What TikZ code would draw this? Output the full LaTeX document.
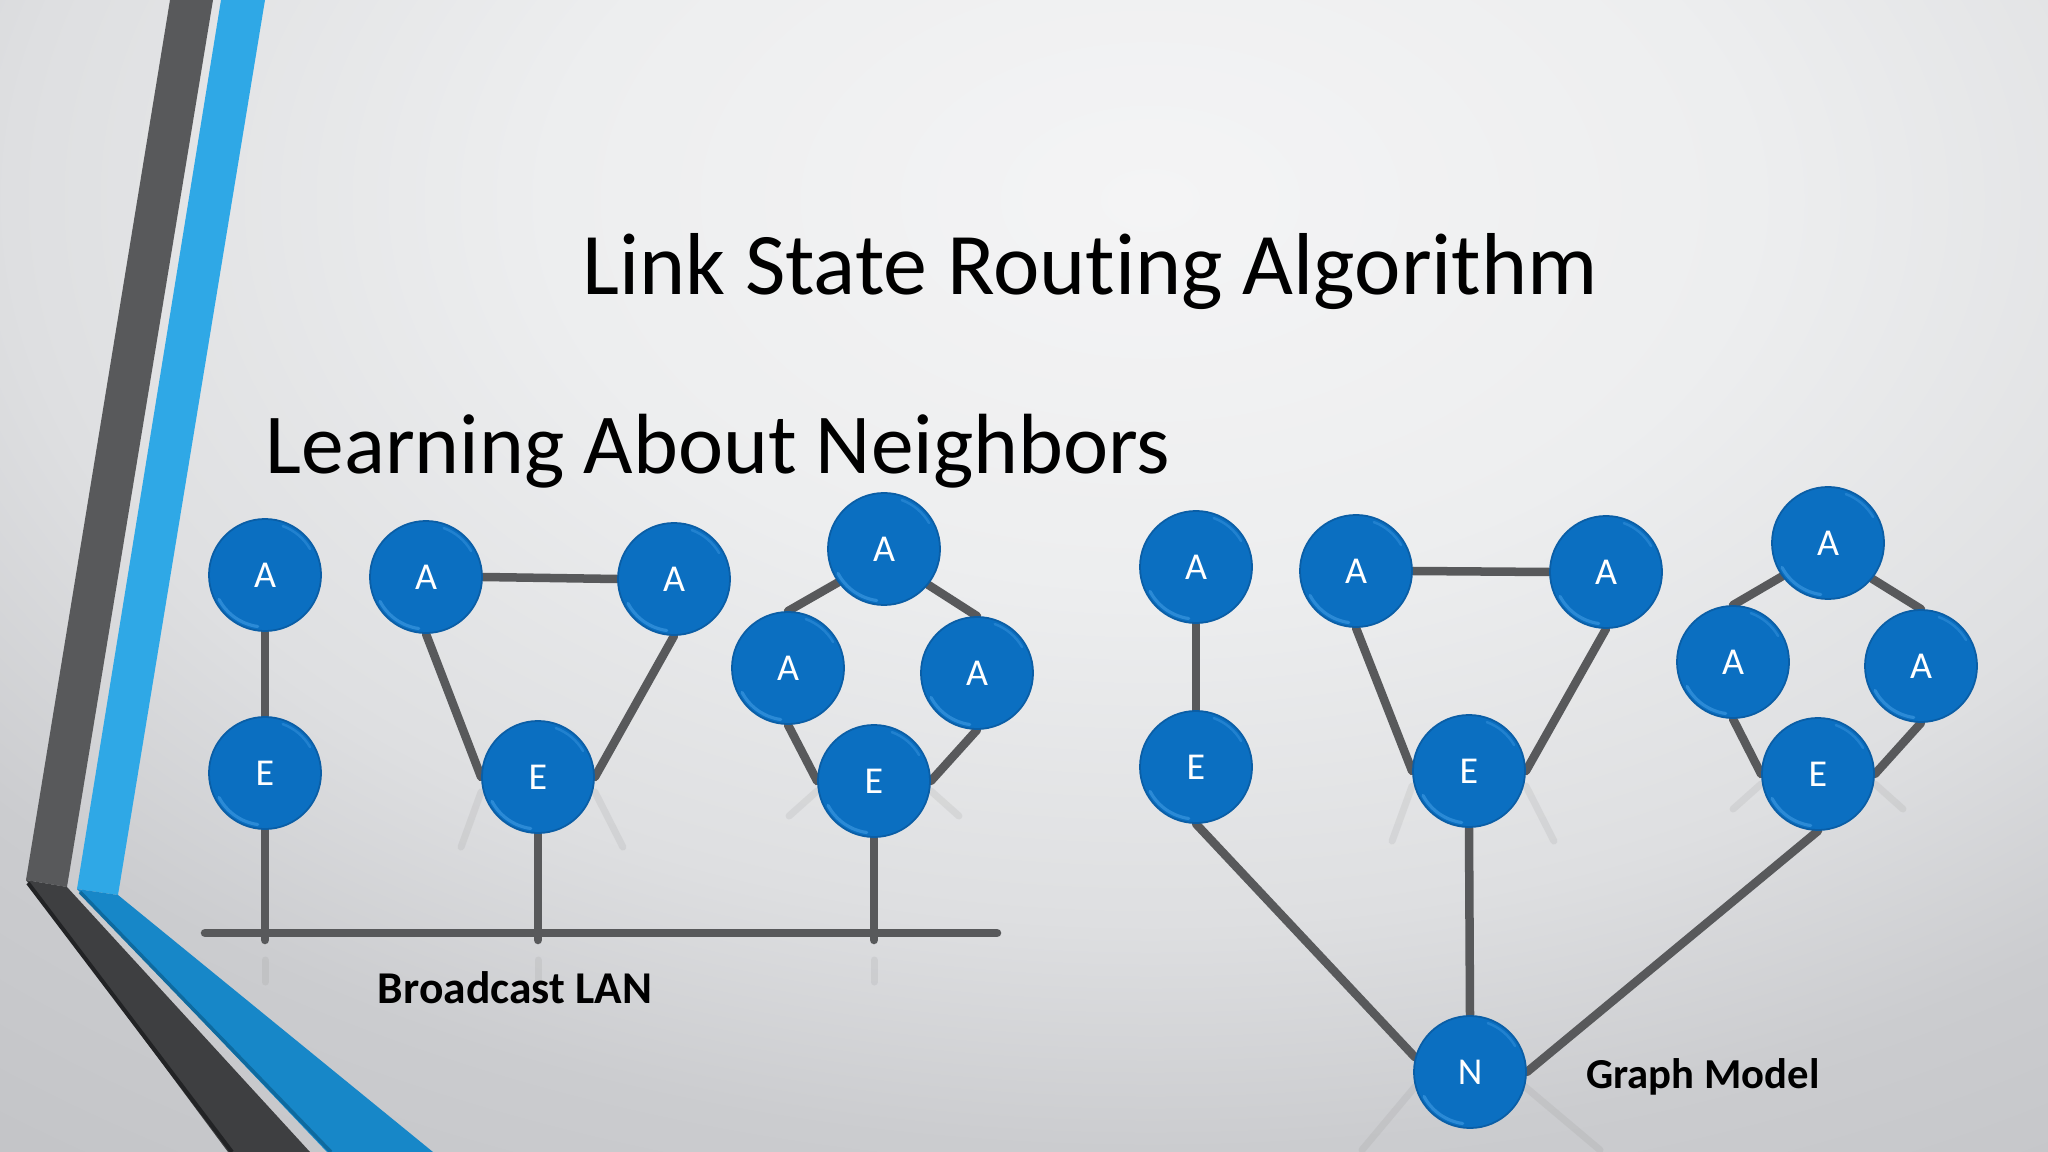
\documentclass[tikz,border=0pt]{standalone}
\usepackage{graphicx}
\usepackage{fontspec}
\setmainfont{Carlito}[Ligatures=NoCommon]
\definecolor{nodeblue}{HTML}{0B6FC1}
\definecolor{nodedark}{HTML}{0A5EA6}
\definecolor{nodehl}{HTML}{2B8AD6}
\definecolor{edgegray}{HTML}{58595B}
\definecolor{darkup}{HTML}{58595B}
\definecolor{darklow}{HTML}{3E3F41}
\definecolor{darkedge}{HTML}{222325}
\definecolor{blueup}{HTML}{2FA8E6}
\definecolor{bluelow}{HTML}{1787C8}
\definecolor{blueedge}{HTML}{0E6A9F}
\definecolor{bgA}{HTML}{F4F4F5}
\definecolor{bgB}{HTML}{EDEEEF}
\definecolor{bgC}{HTML}{DEDFE1}
\definecolor{bgD}{HTML}{CBCCCF}
\definecolor{bgE}{HTML}{C3C4C7}
\definecolor{bgF}{HTML}{C0C1C4}
\pgfdeclareradialshading{bgshade}{\pgfpoint{0bp}{0bp}}{color(0bp)=(bgA); color(5bp)=(bgB); color(9.5bp)=(bgC); color(12.5bp)=(bgD); color(16bp)=(bgE); color(25bp)=(bgF); color(50bp)=(bgF)}
\pgfdeclarelayer{bg}
\pgfdeclarelayer{edges}
\pgfsetlayers{bg,edges,main}
\begin{document}
\begin{tikzpicture}[x=0.01cm, y=-0.01cm,
  nd/.style={circle, fill=nodeblue, draw=nodedark, line width=0.5pt,
    minimum size=1.12cm, inner sep=0pt, text=white,
    font=\fontsize{10.8}{12}\selectfont,
    path picture={
      \draw[draw=nodehl, line width=0.9pt, line cap=round, x=1cm, y=1cm]
        ([shift={(208:0.52)}]path picture bounding box.center)
        arc[start angle=208, end angle=262, radius=0.52];
      \draw[draw=nodehl, line width=0.7pt, line cap=round, x=1cm, y=1cm, opacity=0.7]
        ([shift={(30:0.52)}]path picture bounding box.center)
        arc[start angle=30, end angle=70, radius=0.52];
    }},
  ln/.style={draw=edgegray, line width=0.085cm, line cap=round},
  refl/.style={draw=gray, line width=0.07cm, opacity=0.13, line cap=round},
  lbl/.style={inner sep=0pt, anchor=base, text=black}]

\useasboundingbox (0,0) rectangle (2048,1152);

\begin{pgfonlayer}{bg}
  \fill[bgE] (0,0) rectangle (2048,1152);
  \begin{scope}
    \clip (0,0) rectangle (2048,1152);
    \shade[shading=bgshade] (1150,200) ellipse [x radius=3000, y radius=1900];
  \end{scope}
  % left decoration bands
  \fill[darkup] (170,0) -- (213,0) -- (67,887) -- (26,880) -- cycle;
  \fill[darklow] (26,880) -- (67,887) -- (310,1152) -- (228,1152) -- cycle;
  \draw[darkedge, line width=0.04cm] (28,883) -- (232,1152);
  \fill[blueup] (221,0) -- (265,0) -- (118,895) -- (77,889) -- cycle;
  \fill[bluelow] (77,889) -- (118,895) -- (433,1152) -- (327,1152) -- cycle;
  \draw[blueedge, line width=0.035cm] (80,892) -- (331,1152);
\end{pgfonlayer}

% titles
\node[lbl] (title) at (1090,295) {\resizebox{10.15cm}{!}{Link State Routing Algorithm}};
\node[lbl, anchor=base west] (sub) at (265,474) {\resizebox{9.04cm}{!}{Learning About Neighbors}};

% left: broadcast LAN
\node[nd] (la1) at (265,575) {A};
\node[nd] (le1) at (265,773) {E};
\node[nd] (la2) at (426,577) {A};
\node[nd] (la3) at (674,579) {A};
\node[nd] (le2) at (538,777) {E};
\node[nd] (ldt) at (884,549) {A};
\node[nd] (ldl) at (788,668) {A};
\node[nd] (ldr) at (977,673) {A};
\node[nd] (le3) at (874,781) {E};
\coordinate (busL) at (205,933);
\coordinate (busR) at (997,933);
\coordinate (b1) at (265,940);
\coordinate (b2) at (538,940);
\coordinate (b3) at (874,940);
\node[lbl] (lan) at (515,1003) {\resizebox{2.74cm}{!}{\bfseries Broadcast LAN}};

% right: graph model
\node[nd] (ra1) at (1196,567) {A};
\node[nd] (re1) at (1196,767) {E};
\node[nd] (ra2) at (1356,571) {A};
\node[nd] (ra3) at (1606,572) {A};
\node[nd] (re2) at (1469,771) {E};
\node[nd] (rdt) at (1828,543) {A};
\node[nd] (rdl) at (1733,662) {A};
\node[nd] (rdr) at (1921,666) {A};
\node[nd] (re3) at (1818,774) {E};
\node[nd] (rn) at (1470,1072) {N};
\node[lbl] (gm) at (1703,1088) {\resizebox{2.33cm}{!}{\bfseries Graph Model}};

\begin{pgfonlayer}{edges}
  % left
  \draw[ln] (la1.south) -- (le1.north);
  \draw[ln] (la2.east) -- (la3.west);
  \draw[ln] (la2.south) -- (le2.west);
  \draw[ln] (la3.south) -- (le2.east);
  \draw[ln] (ldt.216) -- (ldl.north);
  \draw[ln] (ldt.321) -- (ldr.north);
  \draw[ln] (ldl.south) -- (le3.west);
  \draw[ln] (ldr.south) -- (le3.east);
  \draw[ln] (busL) -- (busR);
  \draw[ln] (le1.south) -- (b1);
  \draw[ln] (le2.south) -- (b2);
  \draw[ln] (le3.south) -- (b3);
  % reflections
  \draw[refl] ([yshift=-0.15cm]le2.west) -- ++(-20,55);
  \draw[refl] ([yshift=-0.15cm]le2.east) -- ++(28,55);
  \draw[refl] ([yshift=-0.1cm]le3.west) -- ++(-28,25);
  \draw[refl] ([yshift=-0.1cm]le3.east) -- ++(28,25);
  \draw[refl] ([yshift=-0.2cm]b1) -- ++(0,22);
  \draw[refl] ([yshift=-0.2cm]b2) -- ++(0,22);
  \draw[refl] ([yshift=-0.2cm]b3) -- ++(0,22);
  % right
  \draw[ln] (ra1.south) -- (re1.north);
  \draw[ln] (ra2.east) -- (ra3.west);
  \draw[ln] (ra2.south) -- (re2.west);
  \draw[ln] (ra3.south) -- (re2.east);
  \draw[ln] (rdt.216) -- (rdl.north);
  \draw[ln] (rdt.321) -- (rdr.north);
  \draw[ln] (rdl.south) -- (re3.west);
  \draw[ln] (rdr.south) -- (re3.east);
  \draw[ln] (re1.south) -- (rn.165);
  \draw[ln] (re2.south) -- (rn.north);
  \draw[ln] (re3.south) -- (rn.east);
  % reflections
  \draw[refl] ([yshift=-0.15cm]re2.west) -- ++(-20,55);
  \draw[refl] ([yshift=-0.15cm]re2.east) -- ++(28,55);
  \draw[refl] ([yshift=-0.1cm]re3.west) -- ++(-28,25);
  \draw[refl] ([yshift=-0.1cm]re3.east) -- ++(28,25);
  \draw[refl] (rn.195) -- (1362,1150);
  \draw[refl] (rn.345) -- (1600,1150);
\end{pgfonlayer}
\end{tikzpicture}
\end{document}
